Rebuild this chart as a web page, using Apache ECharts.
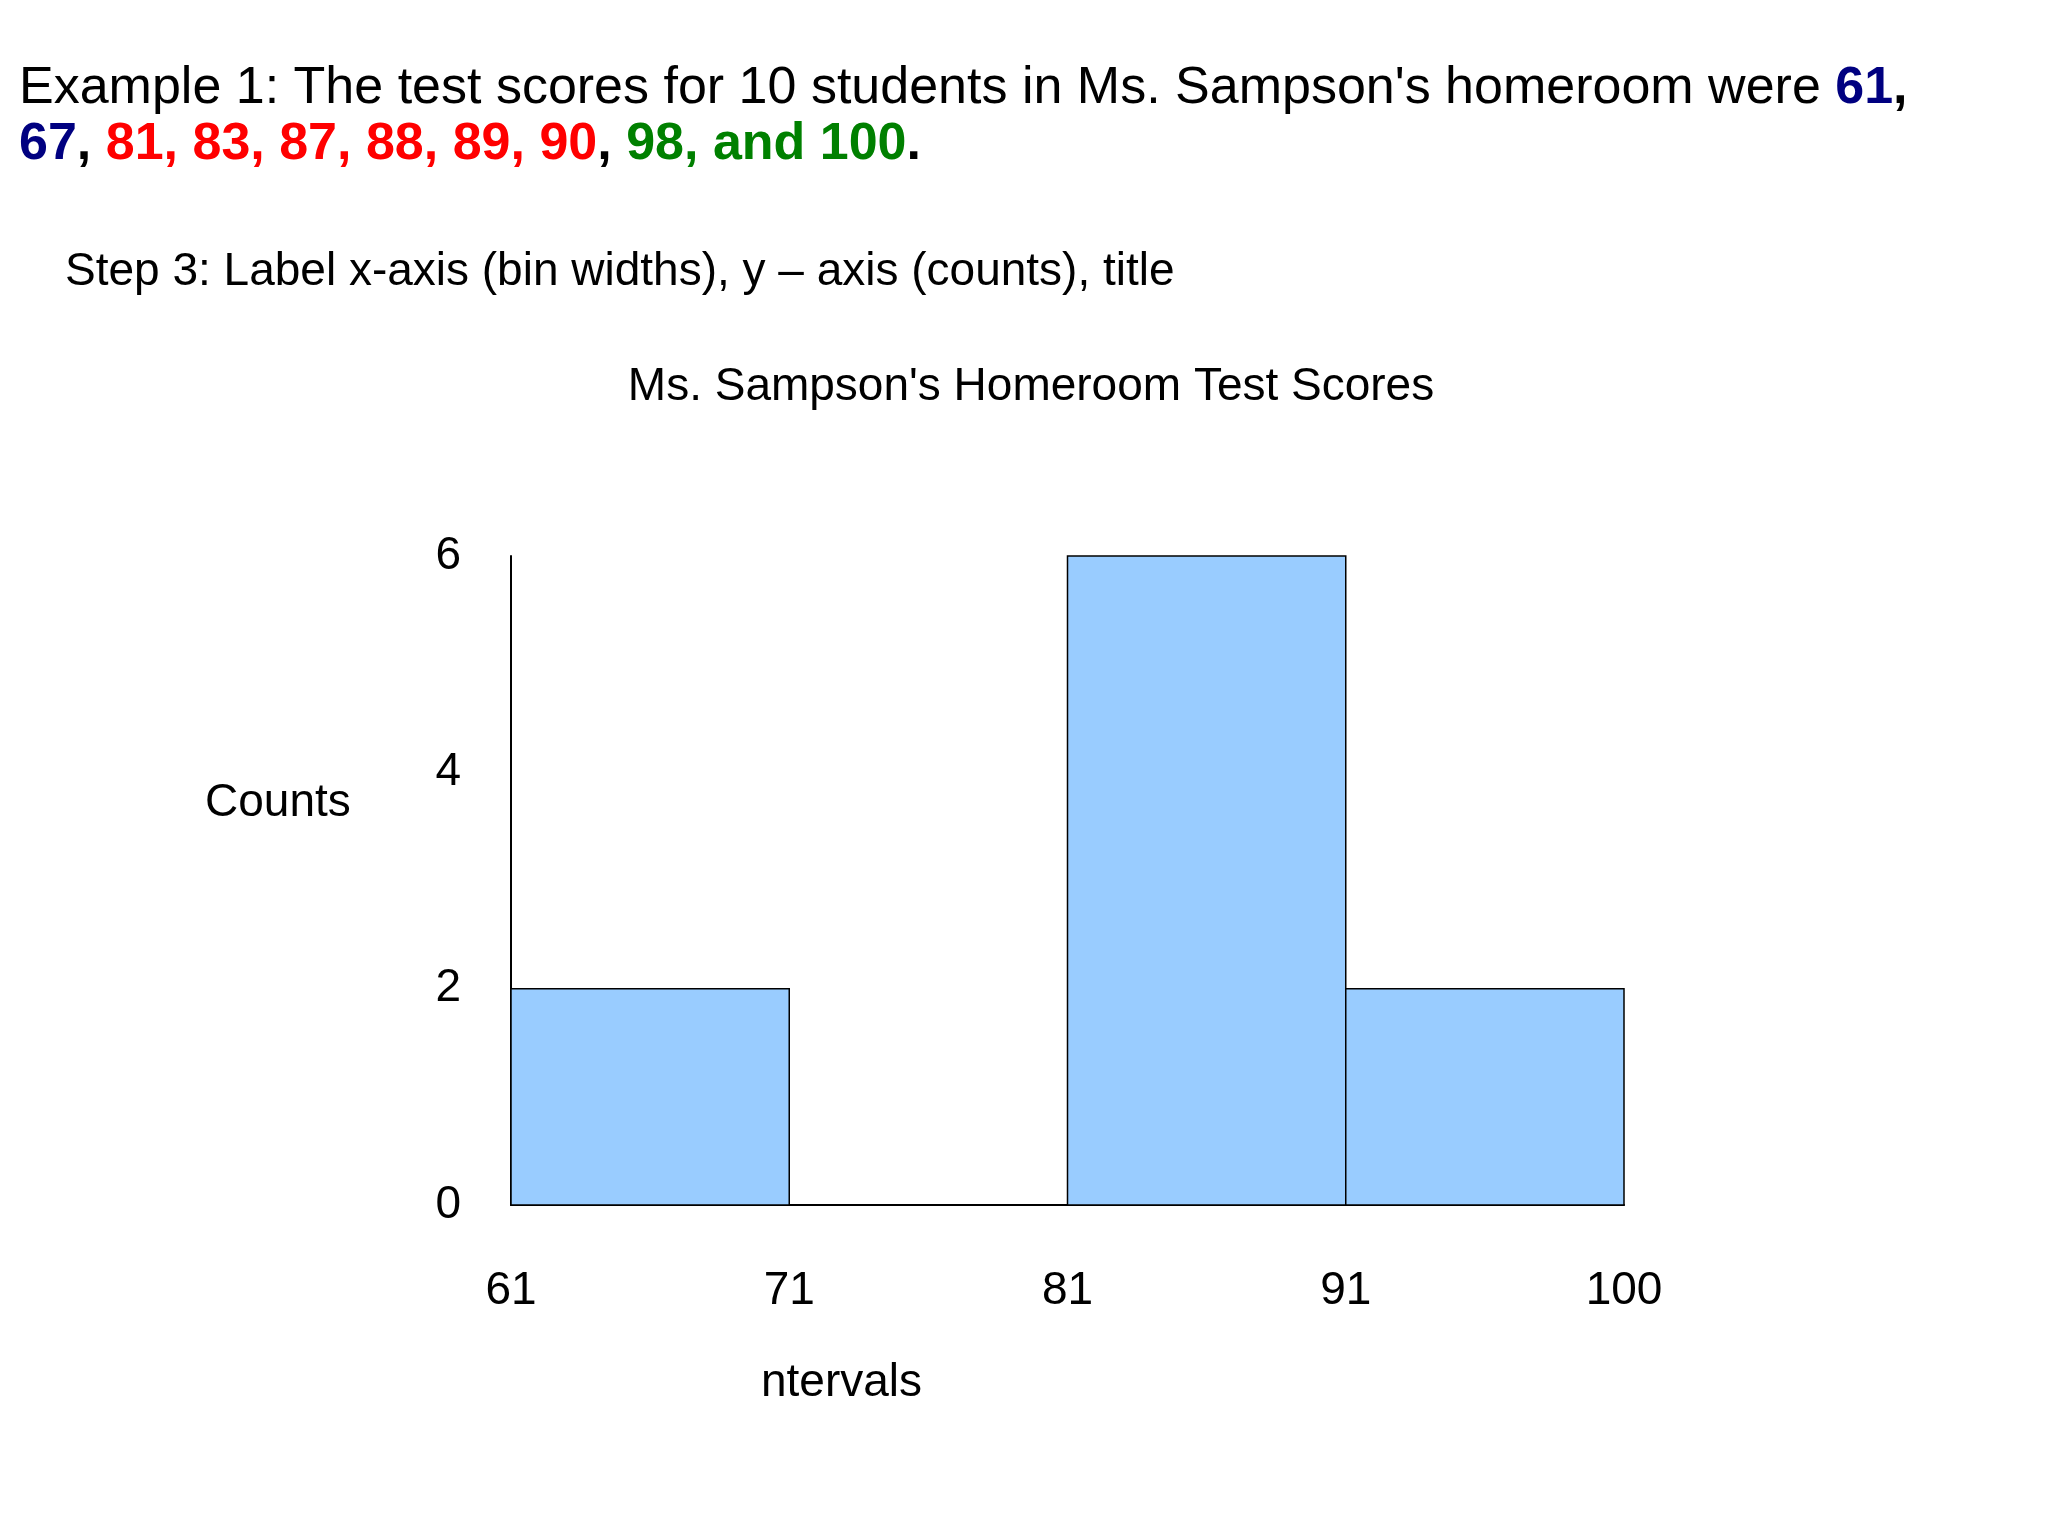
<!DOCTYPE html>
<html>
<head>
<meta charset="utf-8">
<script src="https://cdn.jsdelivr.net/npm/echarts@6/dist/echarts.min.js"></script>
<style>
  html, body { margin: 0; padding: 0; background: #ffffff; }
  #chart { width: 2048px; height: 1535px; }
</style>
</head>
<body>
<div id="chart"></div>
<script>
'use strict';

// histogram data
const binEdges = [61, 71, 81, 91, 100];
const counts = [2, 0, 6, 2];
const yTicks = [0, 2, 4, 6];

const FONT = "'Liberation Sans', Arial, sans-serif";

const binData = counts.map((c, i) => [i, i + 1, c]);

const renderBin = (params, api) => {
    const topLeft = api.coord([api.value(0), api.value(2)]);
    const bottomRight = api.coord([api.value(1), 0]);
    return {
        type: 'rect',
        shape: {
            x: topLeft[0],
            y: topLeft[1],
            width: bottomRight[0] - topLeft[0],
            height: bottomRight[1] - topLeft[1]
        },
        style: {
            fill: '#99ccff',
            stroke: '#000000',
            lineWidth: 1.5
        }
    };
};

const chart = echarts.init(document.getElementById('chart'));

chart.setOption({
    backgroundColor: '#ffffff',
    animation: false,
    title: [
        {
            left: 19,
            top: 61,
            padding: 0,
            text: '{t|Example 1: The test scores for 10 students in Ms. Sampson\'s homeroom were }{n|61}{k|,}\n' +
                  '{n|67}{k|, }{r|81, 83, 87, 88, 89, 90}{k|, }{g|98, and 100}{k|.}',
            textStyle: {
                fontFamily: FONT,
                fontSize: 52,
                fontWeight: 'normal',
                lineHeight: 56,
                rich: {
                    t: { fontFamily: FONT, fontSize: 52, lineHeight: 56, fontWeight: 'normal', color: '#000000' },
                    n: { fontFamily: FONT, fontSize: 52, lineHeight: 56, fontWeight: 'bold', color: '#000080' },
                    k: { fontFamily: FONT, fontSize: 52, lineHeight: 56, fontWeight: 'bold', color: '#000000' },
                    r: { fontFamily: FONT, fontSize: 52, lineHeight: 56, fontWeight: 'bold', color: '#ff0000' },
                    g: { fontFamily: FONT, fontSize: 52, lineHeight: 56, fontWeight: 'bold', color: '#008000' }
                }
            }
        },
        {
            left: 65,
            top: 249,
            padding: 0,
            text: 'Step 3: Label x-axis (bin widths), y \u2013 axis (counts), title',
            textStyle: { fontFamily: FONT, fontSize: 46, fontWeight: 'normal', color: '#000000' }
        },
        {
            left: 1031,
            top: 364,
            padding: 0,
            textAlign: 'center',
            text: 'Ms. Sampson\'s Homeroom Test Scores',
            textStyle: { fontFamily: FONT, fontSize: 46, fontWeight: 'normal', color: '#000000' }
        }
    ],
    graphic: [
        {
            type: 'text',
            left: 205,
            top: 780,
            style: { text: 'Counts', fontFamily: FONT, fontSize: 46, fill: '#000000' }
        },
        {
            type: 'text',
            left: 761,
            top: 1360,
            style: { text: 'ntervals', fontFamily: FONT, fontSize: 46, fill: '#000000' }
        }
    ],
    grid: {
        left: 511,
        right: 424,
        top: 556,
        bottom: 330
    },
    xAxis: {
        type: 'value',
        min: 0,
        max: binEdges.length - 1,
        interval: 1,
        axisLine: { show: true, lineStyle: { color: '#000000', width: 2 } },
        axisTick: { show: false },
        splitLine: { show: false },
        axisLabel: {
            margin: 63,
            fontFamily: FONT,
            fontSize: 46,
            color: '#000000',
            formatter: v => binEdges[v]
        }
    },
    yAxis: {
        type: 'value',
        min: yTicks[0],
        max: yTicks[yTicks.length - 1],
        interval: 2,
        axisLine: { show: true, lineStyle: { color: '#000000', width: 2 } },
        axisTick: { show: false },
        splitLine: { show: false },
        axisLabel: {
            margin: 50,
            fontFamily: FONT,
            fontSize: 46,
            color: '#000000'
        }
    },
    series: [
        {
            type: 'custom',
            renderItem: renderBin,
            encode: { x: [0, 1], y: 2 },
            data: binData,
            z: 1
        }
    ]
});
</script>
</body>
</html>
